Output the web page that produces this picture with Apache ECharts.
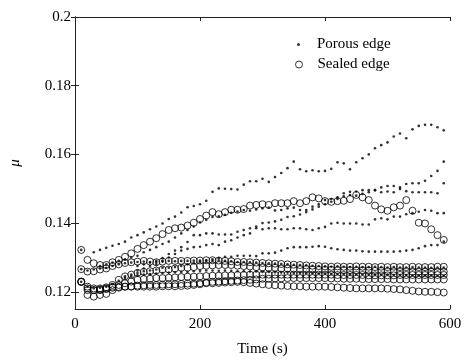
<!DOCTYPE html>
<html><head><meta charset="utf-8">
<script src="https://cdn.jsdelivr.net/npm/echarts@6/dist/echarts.min.js"></script>
<style>html,body{margin:0;padding:0;background:#fff}#c{width:474px;height:363px}</style>
</head><body><div id="c"></div>
<script>
// time stamps (s)
const times = [10,20,30,40,50,60,70,80,90,100,110,120,130,140,150,160,170,180,190,200,
  210,220,230,240,250,260,270,280,290,300,310,320,330,340,350,360,370,380,390,400,
  410,420,430,440,450,460,470,480,490,500,510,520,530,540,550,560,570,580,590];
const xTicks = [0, 200, 400, 600];
const yTickValues = [0.12, 0.14, 0.16, 0.18, 0.2];
const yTickLabels = ['0.12', '0.14', '0.16', '0.18', '0.2'];

// Porous edge series (friction coefficient)
const porous1 = [0.1322,null,0.1315,0.1322,0.1328,0.1334,0.1339,0.1346,0.1358,0.1365,0.1373,0.1382,0.139,0.1399,0.1412,0.1419,0.1431,0.1446,0.145,0.1455,
  0.1465,0.1491,0.1501,0.150,0.1499,0.1498,0.1512,0.1522,0.1522,0.1529,0.152,0.1534,0.1546,0.156,0.1579,0.1557,0.1551,0.1554,0.1551,0.1552,
  0.1558,0.1577,0.1574,0.1557,0.1577,0.1589,0.160,0.1618,0.1627,0.1635,0.1652,0.1661,0.1647,0.1673,0.1683,0.1686,0.1686,0.1679,0.167];
const porous2 = [null,null,null,0.1275,0.128,0.1285,0.129,0.1295,0.130,0.1305,0.1315,0.1322,0.133,0.1339,0.1346,0.1358,0.137,0.138,0.139,0.1402,
  0.141,0.1418,0.142,0.1424,0.143,0.1434,0.1438,0.1436,0.144,0.1443,0.1445,0.1437,0.1438,0.1443,0.1445,0.1438,0.1438,0.1448,0.1455,0.1467,
  0.147,0.1475,0.1478,0.1482,0.148,0.1485,0.149,0.1496,0.1504,0.1508,0.1508,0.1504,0.1514,0.1516,0.1516,0.1523,0.1537,0.1552,0.1579];
const porous7 = [null,null,null,null,null,null,null,null,null,0.1262,0.1268,0.1275,0.128,0.129,0.130,0.131,0.132,0.1325,0.133,0.1331,
  0.1336,0.1339,0.1336,0.1346,0.135,0.1358,0.1365,0.137,0.1385,0.140,0.1402,0.1405,0.141,0.1418,0.142,0.1425,0.1432,0.144,0.1448,0.1455,
  0.1462,0.147,0.1487,0.1491,0.1492,0.1496,0.1496,0.1496,0.149,0.1492,0.149,0.1499,0.1493,0.149,0.149,0.149,0.149,0.1487,0.1516];
const porous3 = [null,null,null,null,null,null,null,null,null,0.1275,0.128,0.1285,0.129,0.1298,0.131,0.132,0.133,0.1345,0.1365,0.1365,
  0.137,0.137,0.1367,0.1367,0.1367,0.1375,0.138,0.1385,0.139,0.1382,0.1385,0.1385,0.1382,0.1382,0.1385,0.1385,0.1382,0.138,0.1385,0.1389,
  0.1399,0.1401,0.1399,0.1399,0.1399,0.1396,0.1396,0.1411,0.1414,0.1411,0.1419,0.1419,0.1426,0.1429,0.1433,0.1438,0.1436,0.1429,0.1429];
const porous4 = [null,null,null,null,null,null,null,0.1245,0.125,0.1255,0.126,0.1262,0.1265,0.127,0.127,0.1272,0.1275,0.128,0.1285,0.1288,
  0.129,0.1295,0.1298,0.1302,0.1302,0.1305,0.1305,0.1305,0.1304,0.1312,0.1312,0.1314,0.132,0.1327,0.133,0.133,0.133,0.1331,0.1333,0.1331,
  0.1327,0.1324,0.1322,0.132,0.132,0.1318,0.1317,0.1317,0.1317,0.1317,0.1317,0.1318,0.132,0.1322,0.1327,0.1333,0.1336,0.1336,0.1346];
const porous5 = [0.1266,0.1262,0.1265,0.1268,0.127,0.1275,0.128,0.1283,0.1285,0.1287,0.1288,0.1287,0.1286,0.1288,0.129,0.1289,0.129,0.129,0.1291,0.1291,
  0.1292,0.129,0.1291,0.129,0.1289,0.1287,0.1287,0.1286,0.1285,0.1284,0.1283,0.1282,0.1281,0.128,0.1279,0.1278,0.1277,0.1276,0.1275,0.1274,
  0.1273,0.1274,0.1273,0.1272,0.1273,0.1272,0.1272,0.1273,0.1272,0.1271,0.1272,0.1271,0.1271,0.1272,0.1271,0.1271,0.127,0.1271,0.1271];
const porous6 = [0.1229,0.1215,0.121,0.1212,0.1215,0.1222,0.1232,0.124,0.1245,0.1248,0.125,0.1252,0.1253,0.1255,0.1256,0.1257,0.1258,0.1258,0.126,0.1261,
  0.1262,0.1262,0.1261,0.1262,0.1261,0.126,0.126,0.1259,0.1259,0.1258,0.1258,0.1257,0.1256,0.1256,0.1255,0.1255,0.1254,0.1254,0.1253,0.1253,
  0.1252,0.1252,0.1252,0.1251,0.1251,0.1251,0.125,0.125,0.125,0.125,0.1249,0.1249,0.1249,0.1248,0.1248,0.1248,0.1248,0.1247,0.1247];

// Sealed edge series
const sealed1 = [0.1322,0.1293,0.1283,0.1278,0.1278,0.1286,0.1293,0.1302,0.1312,0.1325,0.1336,0.1346,0.1356,0.1368,0.138,0.1385,0.1387,0.1393,0.1401,0.1412,
  0.1422,0.1432,0.1426,0.1432,0.1439,0.1439,0.1441,0.1451,0.1453,0.1455,0.1453,0.1458,0.1458,0.1458,0.1464,0.1458,0.1464,0.1475,0.1472,0.1464,
  0.1462,0.1464,0.1465,0.147,0.1482,0.1475,0.1467,0.1451,0.144,0.1436,0.1446,0.1451,0.1467,0.1436,0.1401,0.1399,0.1382,0.1365,0.1351];
const sealed2 = [0.1266,0.1259,0.126,0.1265,0.1268,0.1275,0.128,0.1284,0.1286,0.1288,0.129,0.1288,0.1286,0.1288,0.129,0.129,0.129,0.129,0.1291,0.1291,
  0.1292,0.1292,0.1291,0.129,0.1289,0.1287,0.1287,0.1286,0.1285,0.1284,0.1283,0.1282,0.1281,0.128,0.1279,0.1278,0.1277,0.1276,0.1275,0.1274,
  0.1273,0.1274,0.1273,0.1273,0.1274,0.1273,0.1273,0.1272,0.1273,0.1272,0.1273,0.1272,0.1272,0.1273,0.1272,0.1272,0.1272,0.1273,0.1273];
const sealed3 = [0.1229,0.121,0.121,0.121,0.1213,0.122,0.1235,0.1245,0.125,0.1255,0.1258,0.126,0.1262,0.1265,0.1265,0.1268,0.127,0.127,0.1272,0.1275,
  0.1276,0.1277,0.1278,0.1278,0.1278,0.1276,0.1275,0.1274,0.1272,0.1271,0.127,0.127,0.1268,0.1268,0.1267,0.1266,0.1266,0.1265,0.1264,0.1264,
  0.1264,0.1263,0.1263,0.1263,0.1262,0.1262,0.1262,0.1261,0.1261,0.126,0.126,0.126,0.126,0.1259,0.1259,0.1259,0.1259,0.1259,0.1259];
const sealed4 = [0.1229,0.1215,0.1205,0.1205,0.1208,0.1215,0.122,0.1225,0.123,0.1235,0.1237,0.1238,0.124,0.124,0.1241,0.1242,0.1243,0.1244,0.1244,0.1245,
  0.1246,0.1247,0.1247,0.1248,0.1248,0.1249,0.1249,0.125,0.125,0.125,0.125,0.125,0.125,0.125,0.125,0.125,0.125,0.125,0.125,0.125,
  0.125,0.1249,0.1249,0.1249,0.1249,0.1249,0.1248,0.1248,0.1248,0.1248,0.1248,0.1249,0.1249,0.1249,0.1249,0.1249,0.1249,0.1249,0.1249];
const sealed5 = [0.123,0.1205,0.1205,0.1207,0.121,0.1212,0.1214,0.1215,0.1216,0.1218,0.1219,0.122,0.122,0.1221,0.1222,0.1222,0.1223,0.1224,0.1224,0.1225,
  0.1227,0.1229,0.123,0.1231,0.1232,0.1233,0.1234,0.1235,0.1236,0.1238,0.1238,0.1239,0.1239,0.124,0.124,0.124,0.124,0.124,0.124,0.124,
  0.1239,0.1239,0.1238,0.1238,0.1238,0.1237,0.1237,0.1237,0.1237,0.1237,0.1236,0.1236,0.1236,0.1236,0.1236,0.1236,0.1236,0.1236,0.1236];
const sealed6 = [null,0.1191,0.1186,0.1191,0.1194,0.1205,0.1212,0.1215,0.1215,0.1215,0.1215,0.1215,0.1215,0.1216,0.1216,0.1216,0.1217,0.1218,0.122,0.1222,
  0.1225,0.1225,0.1226,0.1227,0.1228,0.1229,0.1228,0.1226,0.1224,0.1222,0.122,0.1219,0.1218,0.1217,0.1216,0.1216,0.1215,0.1215,0.1215,0.1215,
  0.1214,0.1213,0.1212,0.1211,0.121,0.121,0.121,0.121,0.121,0.1209,0.1208,0.1207,0.1205,0.1203,0.1201,0.12,0.12,0.1199,0.1198];

const porousSeries = [porous1, porous2, porous7, porous3, porous4, porous5, porous6];
const sealedSeries = [sealed1, sealed2, sealed3, sealed4, sealed5, sealed6];

function toPoints(vals) {
  const out = [];
  vals.forEach((v, i) => { if (v !== null) out.push([times[i], v]); });
  return out;
}

const FONT = 'Liberation Serif';
const series = [];
sealedSeries.forEach(vals => series.push({
  name: 'Sealed edge', type: 'scatter', data: toPoints(vals),
  symbol: 'circle', symbolSize: 7,
  itemStyle: { color: 'rgba(255,255,255,0)', borderColor: '#000', borderWidth: 1 },
  emphasis: { disabled: true }, z: 2
}));
porousSeries.forEach(vals => series.push({
  name: 'Porous edge', type: 'scatter', data: toPoints(vals),
  symbol: 'circle', symbolSize: 2.6,
  itemStyle: { color: '#000' },
  emphasis: { disabled: true }, z: 3
}));

const chart = echarts.init(document.getElementById('c'), null, { renderer: 'canvas' });
const axisLine = { show: true, lineStyle: { color: '#222', width: 1 } };
chart.setOption({
  animation: false,
  backgroundColor: '#fff',
  textStyle: { fontFamily: FONT },
  grid: { left: 73.5, right: 24, top: 17, bottom: 54, containLabel: false },
  legend: [
    { data: ['Porous edge'], orient: 'vertical', left: 292, top: 32, itemWidth: 27, itemHeight: 3,
      textStyle: { fontFamily: FONT, fontSize: 15, color: '#000' }, selectedMode: false },
    { data: ['Sealed edge'], orient: 'vertical', left: 290, top: 52, itemWidth: 27, itemHeight: 7,
      itemStyle: { color: 'rgba(255,255,255,0)', borderColor: '#000', borderWidth: 1 },
      textStyle: { fontFamily: FONT, fontSize: 15, color: '#000' }, selectedMode: false }
  ],
  xAxis: [
    { type: 'value', min: 0, max: 600, interval: 200, position: 'bottom',
      name: 'Time (s)', nameLocation: 'middle', nameGap: 33,
      nameTextStyle: { fontFamily: FONT, fontSize: 15, color: '#000' },
      axisLine, axisTick: { inside: true, length: 4, lineStyle: { color: '#222' } },
      axisLabel: { margin: 8, fontFamily: FONT, fontSize: 15, color: '#000',
        formatter: v => xTicks.includes(v) ? String(v) : '' },
      splitLine: { show: false } },
    { type: 'value', min: 0, max: 600, interval: 200, position: 'top',
      axisLine, axisTick: { inside: true, length: 4, lineStyle: { color: '#222' } },
      axisLabel: { show: false }, splitLine: { show: false } }
  ],
  yAxis: [
    { type: 'value', min: 0.115, max: 0.2, position: 'left',
      name: 'μ', nameLocation: 'middle', nameGap: 52, nameRotate: 90,
      nameTextStyle: { fontFamily: FONT, fontSize: 15, fontStyle: 'italic', color: '#000' },
      axisLine, axisTick: { inside: true, length: 4, customValues: yTickValues, lineStyle: { color: '#222' } },
      axisLabel: { margin: 4, fontFamily: FONT, fontSize: 15, color: '#000', customValues: yTickValues,
        formatter: v => { const i = yTickValues.findIndex(t => Math.abs(t - v) < 1e-9); return i >= 0 ? yTickLabels[i] : ''; } },
      splitLine: { show: false } },
    { type: 'value', min: 0.115, max: 0.2, position: 'right',
      axisLine, axisTick: { inside: true, length: 4, customValues: yTickValues, lineStyle: { color: '#222' } },
      axisLabel: { show: false }, splitLine: { show: false } }
  ],
  series
});
</script></body></html>
